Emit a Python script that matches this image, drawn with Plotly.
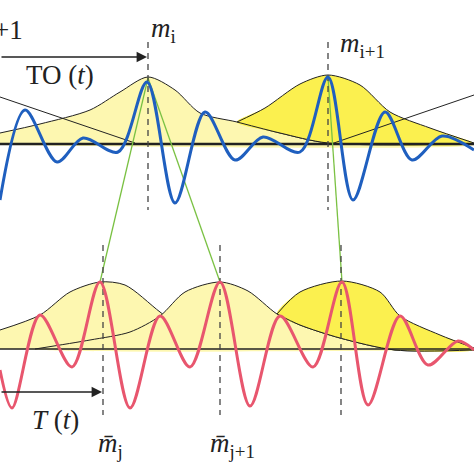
import plotly.graph_objects as go

# top signal (blue) sample points
blue_x = [0, 25, 57, 83, 118, 147, 175, 205, 235, 263, 300, 328, 353, 385, 412, 442, 474]
blue_y = [200, 110, 162, 138, 152, 82, 203, 112, 160, 137, 152, 77, 200, 112, 160, 136, 150]
# bottom signal (red)
red_x = [0, 12, 40, 72, 100, 130, 160, 190, 220, 250, 280, 313, 342, 368, 400, 428, 458, 474]
red_y = [370, 408, 315, 367, 282, 408, 316, 367, 282, 406, 316, 367, 282, 405, 316, 365, 341, 350]

# top humps (outline curves)
h1_x = [0, 40, 90, 120, 148, 175, 200, 237, 280, 328, 474]
h1_y = [133, 124, 110, 92, 77, 90, 113, 122, 133, 143, 144]
h2_x = [237, 265, 300, 328, 360, 390, 430, 474]
h2_y = [122, 108, 84, 75, 85, 112, 128, 143]
h2_base_x = [474, 328, 280, 237]
h2_base_y = [144, 143, 133, 122]
tl_x = [0, 135]
tl_y = [97, 143]
tr_x = [328, 474]
tr_y = [145, 95]

# bottom humps
hA_x = [0, 40, 70, 100, 125, 160, 185, 220, 250]
hA_y = [330, 315, 292, 282, 285, 312, 330, 340, 349]
hB_x = [35, 90, 130, 160, 185, 220, 248, 277, 300, 340, 395, 474]
hB_y = [349, 340, 332, 316, 292, 282, 291, 314, 325, 338, 350, 350]
hC_x = [277, 300, 342, 380, 400, 440, 474]
hC_y = [314, 292, 281, 292, 316, 335, 348]
hC_base_x = [474, 395, 340, 300, 277]
hC_base_y = [350, 350, 338, 325, 314]

green_x = [[148, 100], [148, 220], [328, 342]]
green_y = [[78, 282], [78, 282], [77, 282]]
dash_top_x = [148, 328]
dash_bot_x = [103, 220, 341]

fig = go.Figure()
LY = "#fdf7b0"; BY = "#fbf04f"; K = "#222222"
SP = dict(color=K, width=1, shape="spline", smoothing=0.8)


def hump(xs, ys, bx, by, color):
    fig.add_trace(go.Scatter(x=xs + bx, y=ys + by, fill="toself", fillcolor=color,
                             line=dict(width=0, shape="spline", smoothing=0.8), mode="lines"))
    fig.add_trace(go.Scatter(x=xs, y=ys, line=SP, mode="lines"))
    if len(bx) > 2:
        fig.add_trace(go.Scatter(x=bx, y=by, line=SP, mode="lines"))


hump(h1_x, h1_y, [474, 0], [145, 145], LY)
hump(h2_x, h2_y, h2_base_x, h2_base_y, BY)
fig.add_trace(go.Scatter(x=tl_x, y=tl_y, line=dict(color=K, width=1), mode="lines"))
fig.add_trace(go.Scatter(x=tr_x, y=tr_y, line=dict(color=K, width=1), mode="lines"))
hump(hA_x, hA_y, [0], [349], LY)
hump(hB_x, hB_y, [35], [349], LY)
hump(hC_x, hC_y, hC_base_x, hC_base_y, BY)
fig.add_trace(go.Scatter(x=[0, 474], y=[144, 144], line=dict(color=K, width=2.5), mode="lines"))
fig.add_trace(go.Scatter(x=[0, 474], y=[349, 349], line=dict(color=K, width=1.5), mode="lines"))
for gx, gy in zip(green_x, green_y):
    fig.add_trace(go.Scatter(x=gx, y=gy, line=dict(color="#7ac143", width=1.3), mode="lines"))
for dx in dash_top_x:
    fig.add_trace(go.Scatter(x=[dx, dx], y=[42, 210], line=dict(color="#444", width=1.3, dash="6px,5px"), mode="lines"))
for dx in dash_bot_x:
    fig.add_trace(go.Scatter(x=[dx, dx], y=[245, 415], line=dict(color="#444", width=1.3, dash="6px,5px"), mode="lines"))
fig.add_trace(go.Scatter(x=blue_x, y=blue_y, line=dict(color="#1f5fbf", width=3, shape="spline", smoothing=0.9), mode="lines"))
fig.add_trace(go.Scatter(x=red_x, y=red_y, line=dict(color="#e8566e", width=3, shape="spline", smoothing=0.9), mode="lines"))

for (x0, x1, y) in [(0, 147, 57), (0, 102, 392)]:
    fig.add_annotation(x=x1, y=y, ax=x0, ay=y, xref="x", yref="y", axref="x", ayref="y",
                       showarrow=True, arrowhead=2, arrowsize=1.6, arrowwidth=1.3, arrowcolor=K, text="")
F = dict(family="Liberation Serif", size=27, color="#222")
texts = [
    (60, 75, "TO (<i>t</i>)"),
    (163, 30, "<i>m</i><sub>i</sub>"),
    (362, 45, "<i>m</i><sub>i+1</sub>"),
    (8, 30, "+1"),
    (55, 420, "<i>T</i> (<i>t</i>)"),
    (110, 445, "<i>m̄</i><sub>j</sub>"),
    (232, 445, "<i>m̄</i><sub>j+1</sub>"),
]
for x, y, t in texts:
    fig.add_annotation(x=x, y=y, xref="x", yref="y", text=t, showarrow=False, font=F)

fig.update_layout(width=474, height=474, margin=dict(l=0, r=0, t=0, b=0), showlegend=False,
                  plot_bgcolor="white", paper_bgcolor="white",
                  xaxis=dict(range=[0, 474], visible=False, fixedrange=True),
                  yaxis=dict(range=[474, 0], visible=False, fixedrange=True))
fig.write_html("out.html", config={"displayModeBar": False},
               post_script="document.body.style.margin='0';document.body.style.overflow='hidden';")
